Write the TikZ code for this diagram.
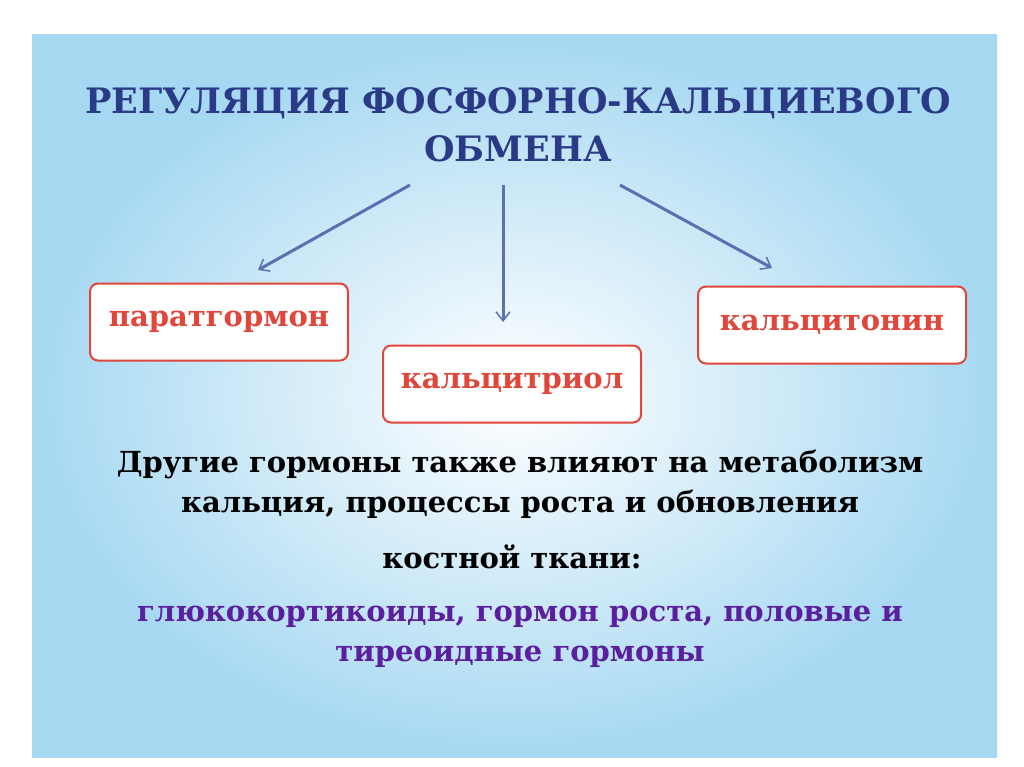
\documentclass[tikz,border=0pt]{standalone}
\usepackage{fontspec}
\setmainfont{DejaVu Serif}
\usetikzlibrary{arrows.meta,shadows}
\definecolor{ttl}{HTML}{2B3A86}
\definecolor{bx}{HTML}{E0463A}
\definecolor{arr}{HTML}{5A70B0}
\definecolor{pur}{HTML}{5B1E9E}
\definecolor{bg}{HTML}{A6D8F2}
\begin{document}
\begin{tikzpicture}[x=1pt,y=-1pt,
  hbox/.style={draw=bx,line width=2pt,rounded corners=8pt,fill=white,minimum width=258pt,minimum height=77pt,text=bx,font=\fontsize{29}{34}\selectfont\bfseries},
  harr/.style={draw=arr,line width=3pt,-{Straight Barb[length=9pt,width=14pt,line width=1.5pt]}},
  body/.style={font=\fontsize{29}{40}\selectfont\bfseries,align=center}]
\useasboundingbox (0,0) rectangle (1024,767);
\fill[white] (0,0) rectangle (1024,767);
\shade[inner color=white,outer color=bg] (32,35) rectangle (997,757);
\node[font=\fontsize{35}{48}\selectfont\bfseries,text=ttl,align=center] (title) at (518,125) {РЕГУЛЯЦИЯ ФОСФОРНО-КАЛЬЦИЕВОГО\\ОБМЕНА};
\node[hbox] (p) at (219,322) {паратгормон};
\node[hbox] (c) at (512,384) {кальцитриол};
\node[hbox,minimum width=268pt] (k) at (832,325) {кальцитонин};
\coordinate (a1) at (410,185); \coordinate (a2) at (503,185); \coordinate (a3) at (620,185);
\coordinate (e1) at (258,270); \coordinate (e2) at (503,322); \coordinate (e3) at (772,268);
\draw[harr] (a1) -- (e1);
\draw[harr] (a2) -- (e2);
\draw[harr] (a3) -- (e3);
\node[body] (t1) at (520,484) {Другие гормоны также влияют на метаболизм\\кальция, процессы роста и обновления};
\node[body] (t2) at (512,557) {костной ткани:};
\node[body,text=pur] (t3) at (520,637) {глюкокортикоиды, гормон роста, половые и\\тиреоидные гормоны};
\end{tikzpicture}
\end{document}
